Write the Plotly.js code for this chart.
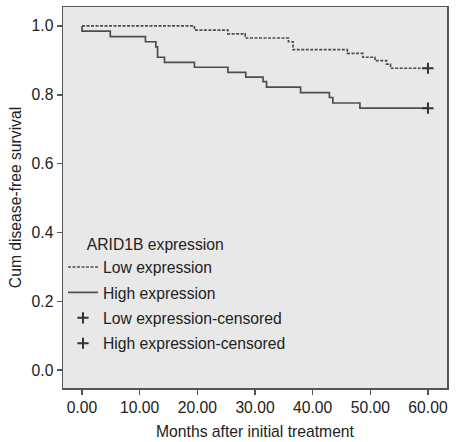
<!DOCTYPE html>
<html>
<head>
<meta charset="utf-8">
<script src="https://cdn.plot.ly/plotly-3.0.1.min.js"></script>
<style>html,body{margin:0;padding:0;background:#fff;}#chart{width:462px;height:442px;}</style>
</head>
<body>
<div id="chart"></div>
<script>
// Low expression group (months, cumulative disease-free survival)
const lowTimes = [0, 19.5, 25.3, 28.3, 35.8, 36.6, 46.0, 48.7, 50.8, 52.8, 53.5, 60];
const lowSurv  = [1.0, 0.988, 0.977, 0.965, 0.954, 0.931, 0.920, 0.909, 0.899, 0.889, 0.877, 0.877];
// High expression group
const highTimes = [0, 0, 4.9, 11.0, 12.8, 13.1, 14.3, 19.5, 25.3, 28.4, 31.4, 32.0, 37.9, 42.9, 43.5, 48.2, 60];
const highSurv  = [1.0, 0.985, 0.969, 0.954, 0.939, 0.909, 0.894, 0.880, 0.865, 0.851, 0.838, 0.822, 0.806, 0.792, 0.776, 0.761, 0.761];
// Censored observations
const lowCensTimes = [60];
const lowCensSurv = [0.877];
const highCensTimes = [60];
const highCensSurv = [0.761];
// Text
const legendTitle = "ARID1B expression";
const seriesNames = ["Low expression", "High expression", "Low expression-censored", "High expression-censored"];
const xTitle = "Months after initial treatment";
const yTitle = "Cum disease-free survival";
const xTicks = [0, 10, 20, 30, 40, 50, 60];
const yTicks = [0, 0.2, 0.4, 0.6, 0.8, 1.0];

const lineCol = "#4d4d4d";
const font = "Liberation Sans, Arial, Helvetica, sans-serif";
const fs = 15.7;

const traces = [
  {x: lowTimes, y: lowSurv, mode: "lines", line: {shape: "hv", color: lineCol, width: 1.7, dash: "3px,1.5px"}, name: seriesNames[0], legendgroup: "a"},
  {x: highTimes, y: highSurv, mode: "lines", line: {shape: "hv", color: lineCol, width: 1.7}, name: seriesNames[1], legendgroup: "b"},
  {x: lowCensTimes, y: lowCensSurv, mode: "markers", marker: {symbol: "cross-thin", size: 8, line: {width: 2, color: "#333"}}, name: seriesNames[2], legendgroup: "c"},
  {x: highCensTimes, y: highCensSurv, mode: "markers", marker: {symbol: "cross-thin", size: 8, line: {width: 2, color: "#333"}}, name: seriesNames[3], legendgroup: "d"}
];

const layout = {
  width: 462, height: 442,
  margin: {l: 63, r: 15, t: 7, b: 54},
  paper_bgcolor: "#ffffff",
  plot_bgcolor: "#e8e8e8",
  font: {family: font, size: fs, color: "#222"},
  showlegend: true,
  legend: {
    x: 0.0, y: 0.415, xanchor: "left", yanchor: "top",
    bgcolor: "rgba(0,0,0,0)",
    title: {text: "\u00a0\u00a0\u00a0\u00a0\u00a0" + legendTitle, font: {size: fs}},
    traceorder: "grouped", tracegroupgap: 2,
    itemwidth: 30,
    font: {size: fs, family: font, color: "#222"}
  },
  xaxis: {
    range: [-3.3, 63.3], tickvals: xTicks, tickformat: ".2f",
    showgrid: false, zeroline: false,
    showline: true, linecolor: "#555", linewidth: 1.5, mirror: true,
    ticks: "outside", ticklen: 5, tickcolor: "#555", tickwidth: 1.5,
    title: {text: xTitle, font: {size: fs}, standoff: 10}
  },
  yaxis: {
    range: [-0.052, 1.055], tickvals: yTicks, tickformat: ".1f",
    showgrid: false, zeroline: false,
    showline: true, linecolor: "#555", linewidth: 1.5, mirror: true,
    ticks: "outside", ticklen: 5, tickcolor: "#555", tickwidth: 1.5,
    title: {text: yTitle, font: {size: fs}, standoff: 6}
  }
};

Plotly.newPlot("chart", traces, layout, {displayModeBar: false, staticPlot: true});
</script>
</body>
</html>
